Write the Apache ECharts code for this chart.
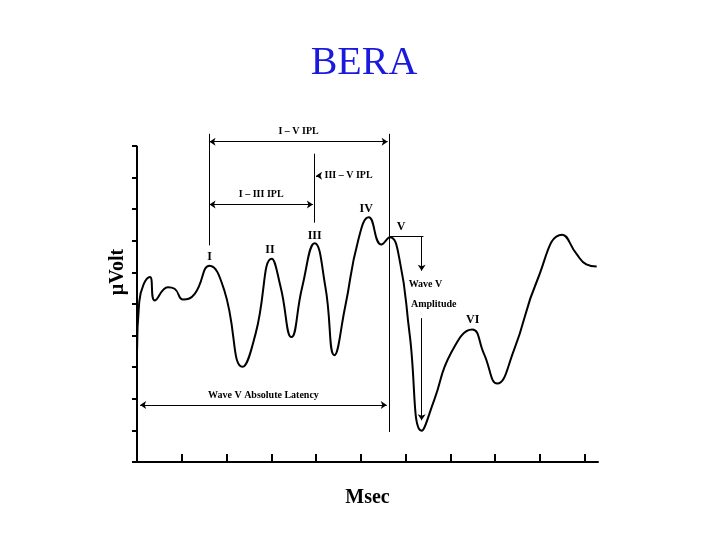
<!DOCTYPE html>
<html><head><meta charset="utf-8">
<script src="https://cdn.jsdelivr.net/npm/echarts@6/dist/echarts.min.js"></script>
<style>html,body{margin:0;padding:0;background:#fff}#c{width:728px;height:546px}</style>
</head><body><div id="c"></div>
<script>
const xTicks=[0,1,2,3,4,5,6,7,8,9,10];
const yTicks=[0,1,2,3,4,5,6,7,8,9,10];
const waveX=[0,0.05,0.29,0.40,0.69,0.84,1.03,1.29,1.62,1.95,2.36,2.65,3.01,3.21,3.45,3.69,3.97,4.21,4.41,4.65,4.94,5.18,5.46,5.65,5.87,6.09,6.36,6.64,7.01,7.49,7.75,8.05,8.42,8.94,9.5,9.82,10.04,10.27];
const waveY=[3.44,5.06,5.85,5.11,5.53,5.48,5.14,5.32,6.21,5.43,3.01,4.06,6.43,5.53,3.95,5.53,6.92,5.53,3.38,4.9,7.0,7.74,6.88,7.11,6.37,4.06,0.99,1.96,3.43,4.19,3.43,2.48,3.53,5.74,7.19,6.58,6.25,6.18];
const peakNames=['I','II','III','IV','V','VI'];
const peakX=[1.62,2.97,3.97,5.12,5.9,7.5];
const peakY=[6.5,6.7,7.15,8.0,7.45,4.5];
const yAxisLine=[[0,0],[0,10]];
const plainLines=[[1.62,6.85,1.62,10.38],[5.63,10.38,5.63,0.95],[3.97,7.57,3.97,9.75],[5.65,7.13,6.4,7.13]];
const arrowLines=[[1.62,10.13,5.6,10.13,'I – V IPL'],[1.62,8.14,3.93,8.14,'I – III IPL'],[0.07,1.8,5.58,1.8,'Wave V Absolute Latency']];
const texts=[[4.19,9.05,'III – V IPL'],[6.07,5.62,'Wave V'],[6.12,4.98,'Amplitude']];
const d=[];
waveX.forEach((x,i)=>d.push([x,waveY[i]]));
const lblFont={fontFamily:'Liberation Serif',fontWeight:'bold',fontSize:10,color:'#000'};
const ml=[];
ml.push([{coord:yAxisLine[0],symbol:'none',lineStyle:{width:2}},{coord:yAxisLine[1],symbol:'none'}]);
plainLines.forEach(l=>ml.push([{coord:[l[0],l[1]],symbol:'none'},{coord:[l[2],l[3]],symbol:'none'}]));
arrowLines.forEach(l=>ml.push([{coord:[l[0],l[1]],symbol:'arrow'},{coord:[l[2],l[3]],symbol:'arrow',label:{show:true,position:'middle',formatter:l[4],backgroundColor:'#fff',padding:[0,3],...lblFont}}]));
ml.push([{coord:[6.36,7.13],symbol:'none'},{coord:[6.36,6.05],symbol:'arrow'}]);
ml.push([{coord:[6.36,4.55],symbol:'none'},{coord:[6.36,1.32],symbol:'arrow'}]);
ml.push([{coord:[4.08,9.05],symbol:'none'},{coord:[4.0,9.05],symbol:'arrow'}]);
const chart=echarts.init(document.getElementById('c'));
chart.setOption({
 animation:false,
 title:{text:'BERA',left:'center',top:38,textStyle:{fontFamily:'Liberation Serif',fontWeight:'normal',fontSize:40,color:'#1a1adc'}},
 graphic:[{type:'text',x:118,y:272,rotation:Math.PI/2,style:{text:'µVolt',fill:'#000',font:'bold 20px "Liberation Serif"',align:'center',verticalAlign:'middle'}}],
 grid:{left:137,right:130,top:130,bottom:84},
 xAxis:{type:'value',min:0,max:10.3,name:'Msec',nameLocation:'middle',nameGap:26,
  nameTextStyle:{fontFamily:'Liberation Serif',fontWeight:'bold',fontSize:20,color:'#000'},
  axisLine:{lineStyle:{color:'#000',width:2}},axisTick:{inside:true,length:8,customValues:xTicks,lineStyle:{color:'#000',width:2}},
  axisLabel:{show:false},splitLine:{show:false}},
 yAxis:{type:'value',min:0,max:10.5,
  axisLine:{show:false},axisTick:{length:5,customValues:yTicks,lineStyle:{color:'#000',width:2}},
  axisLabel:{show:false},splitLine:{show:false}},
 series:[
  {type:'line',data:d,smooth:0.5,symbol:'none',lineStyle:{color:'#000',width:2},clip:false,
   markLine:{silent:true,symbolSize:6,label:{show:false},lineStyle:{color:'#000',width:1,type:'solid'},data:ml}},
  {type:'scatter',symbolSize:0,clip:false,itemStyle:{opacity:1},data:peakX.map((x,i)=>({value:[x,peakY[i]],label:{show:true,formatter:peakNames[i],position:'inside',fontFamily:'Liberation Serif',fontWeight:'bold',fontSize:12,color:'#000'}}))},
  {type:'scatter',symbolSize:0,clip:false,itemStyle:{opacity:1},data:texts.map(t=>({value:[t[0],t[1]],label:{show:true,formatter:t[2],position:'right',distance:0,...lblFont}}))}
 ]
});
</script></body></html>
